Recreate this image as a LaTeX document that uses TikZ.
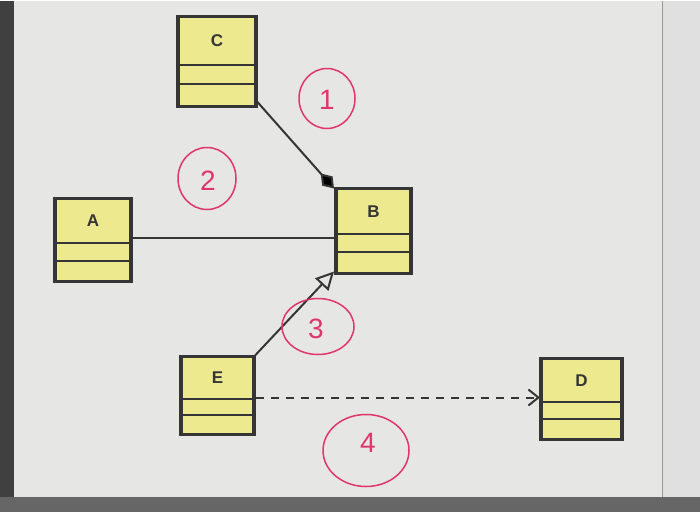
\documentclass[tikz,border=0pt]{standalone}
\usepackage{fontspec}
\setmainfont{Liberation Sans}
\usetikzlibrary{arrows.meta,shapes.geometric}
\definecolor{bg}{HTML}{E6E6E4}
\definecolor{boxy}{HTML}{EDE98E}
\definecolor{ink}{HTML}{353535}
\definecolor{pen}{HTML}{E0366A}
\tikzset{
  cls/.style={draw=ink,line width=3.6pt,fill=boxy},
  lbl/.style={font=\bfseries\fontsize{17}{17}\selectfont,text=ink},
  conn/.style={draw=ink,line width=2pt},
  penmark/.style={draw=pen,line width=1.5pt},
  num/.style={text=pen,font=\fontsize{28}{28}\selectfont}
}
\newcommand{\umlbox}[6]{% name, label, x1, y1, x2, y2
  \pgfmathsetmacro{\hh}{#6-#4}
  \pgfmathsetmacro{\da}{#4+0.54*\hh}
  \pgfmathsetmacro{\db}{#4+0.75*\hh}
  \draw[cls] (#3,#4) rectangle (#5,#6);
  \draw[draw=ink,line width=2pt] (#3,\da) -- (#5,\da);
  \draw[draw=ink,line width=2pt] (#3,\db) -- (#5,\db);
  \node[lbl] (#1) at ({(#3+#5)/2},{(#4+\da)/2}) {#2};
  \coordinate (#1-nw) at (#3,#4);
  \coordinate (#1-se) at (#5,#6);
}
\begin{document}
\begin{tikzpicture}[x=1pt,y=-1pt]
\fill[bg] (0,0) rectangle (700,511);
\fill[black!75] (0,0) rectangle (14,511);
\fill[black!60] (0,496) rectangle (700,511);
\fill[white!88!black] (662,0) rectangle (700,496);
\draw[black!40,line width=1pt] (662,0) -- (662,496);
\umlbox{C}{C}{178}{16}{256}{106}
\umlbox{A}{A}{55}{198}{131}{281}
\umlbox{B}{B}{336}{188}{411}{273}
\umlbox{E}{E}{181}{356}{254}{434}
\umlbox{D}{D}{541}{358}{622}{439}
\coordinate (c1) at (257,101);
\coordinate (b1) at (334,188);
\coordinate (a1) at (132,237);
\coordinate (b2) at (334,237);
\coordinate (e1) at (255,355);
\coordinate (b3) at (334,271);
\coordinate (e2) at (256,397);
\coordinate (d1) at (540,397);
\draw[conn,-{Diamond[fill=black,length=20pt,width=14pt]}] (c1) -- (b1);
\draw[conn] (a1) -- (b2);
\draw[conn,-{Triangle[open,fill=bg,length=18pt,width=18pt]}] (e1) -- (b3);
\draw[conn,dash pattern=on 8pt off 7pt,-{Straight Barb[length=10pt,width=16pt]}] (e2) -- (d1);
\draw[penmark] (327,98) circle[x radius=28,y radius=30];
\node[num] (n1) at (327,99) {1};
\draw[penmark] (207,178) circle[x radius=29,y radius=31];
\node[num] (n2) at (208,180) {2};
\draw[penmark] (318,326) circle[x radius=36,y radius=28];
\node[num] (n3) at (316,328) {3};
\draw[penmark] (366,450) circle[x radius=43,y radius=36];
\node[num] (n4) at (368,442) {4};
\end{tikzpicture}
\end{document}
